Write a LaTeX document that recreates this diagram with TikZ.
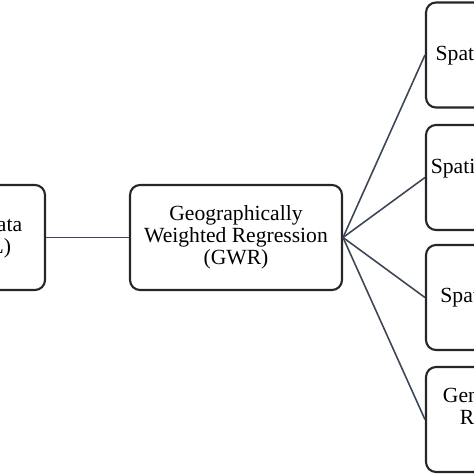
\documentclass[tikz,border=0pt]{standalone}
\usepackage{fontspec}
\setmainfont{Liberation Serif}
\definecolor{boxline}{HTML}{262626}
\definecolor{linkline}{HTML}{3D4657}
\tikzset{
    box/.style={draw=boxline, line width=1.2pt, rounded corners=0.2cm, align=center,
        minimum width=3.28cm, minimum height=2.1cm, inner sep=2pt,
        font=\fontsize{12.3}{12.6}\selectfont},
    link/.style={draw=linkline, line width=0.9pt}
}
\begin{document}
\begin{tikzpicture}[x=0.02cm, y=-0.02cm]
    \useasboundingbox (0,0) rectangle (474,474);
    \clip (0,0) rectangle (474,474);
    \node[box, minimum width=3.04cm] (data) at (-31,237.5) {Spatial Data\\(EXCEL)};
    \node[box, minimum width=4.24cm] (gwr)  at (236,237.5) {Geographically\\Weighted Regression\\(GWR)};
    \node[box] (var)  at (508,55)    {Spatial Variation};
    \node[box] (pred) at (508,177.5) {Spatial Prediction\\Models};
    \node[box] (pat)  at (508,297.5) {Spatial Patterns};
    \node[box] (glr)  at (508,419.5) {General Linear\\Regression\\(GLR)};
    \draw[link] (data) -- (gwr);
    \draw[link] (gwr.east) -- (var.west);
    \draw[link] (gwr.east) -- (pred.west);
    \draw[link] (gwr.east) -- (pat.west);
    \draw[link] (gwr.east) -- (glr.west);
\end{tikzpicture}
\end{document}
